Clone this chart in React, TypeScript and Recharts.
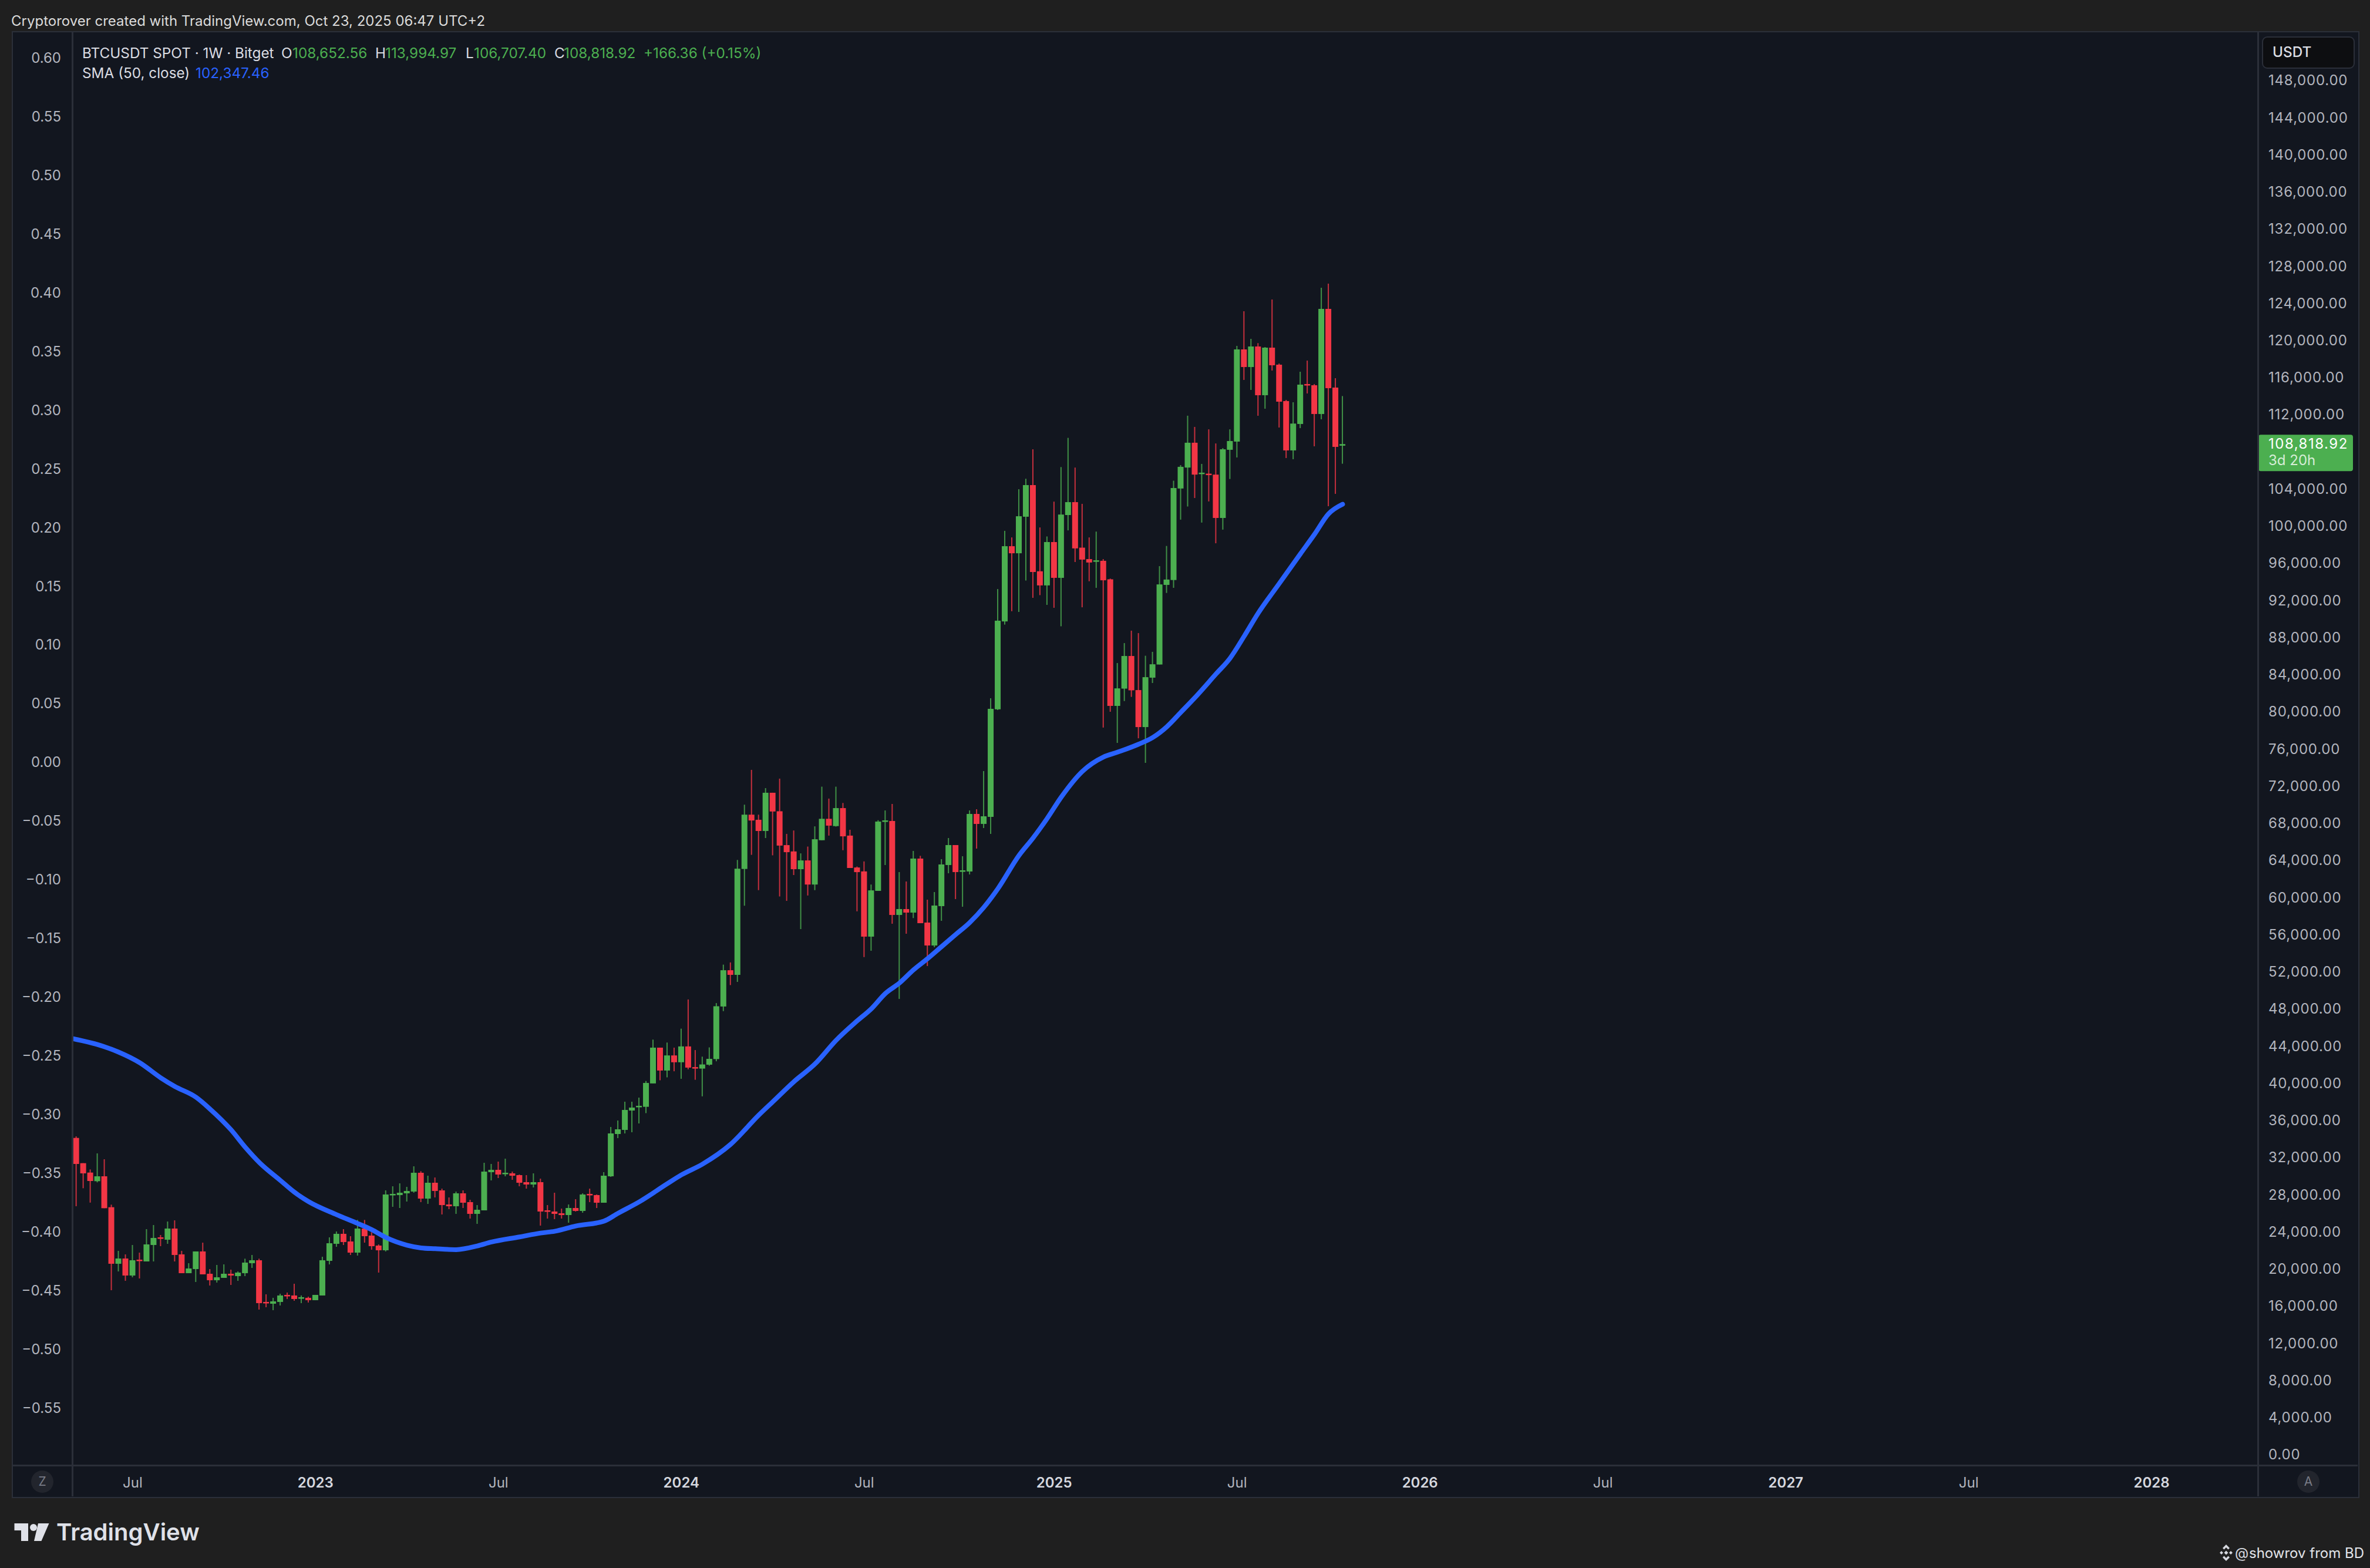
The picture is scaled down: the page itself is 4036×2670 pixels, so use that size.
import { Bar, ComposedChart, Line, ReferenceLine, XAxis, YAxis } from 'recharts'

// weekly candles, oldest first
const opens = [
  34094, 31375, 30363, 29435, 29962, 26632, 20540, 21109, 19275, 20982,
  20792, 22563, 23385, 23132, 24334, 21552, 19528, 19970, 21868, 19464,
  18769, 19022, 19464, 19211, 19528, 20603, 20919, 16429, 16239, 16429,
  17187, 17125, 16808, 16872, 16619, 17125, 20855, 22690, 23765, 22943,
  21741, 24334, 23575, 22500, 21994, 27939, 27939, 28128, 28318, 30342,
  27559, 29267, 28444, 26927, 26737, 28128, 27180, 25915, 26294, 30405,
  30658, 30215, 30278, 30089, 29330, 29077, 29330, 26294, 26168, 25978,
  25788, 26547, 26231, 28065, 27939, 27116, 29962, 34515, 34958, 37045,
  37425, 37446, 39964, 43817, 41353, 42979, 42244, 43950, 41720, 41563,
  41982, 42586, 48249, 52156, 51657, 63063, 68910, 68360, 67153, 71270,
  69277, 65632, 64951, 63037, 63981, 61385, 66157, 68464, 67678, 69618,
  66655, 63221, 62801, 55774, 60703, 68166, 68229, 58110, 58743, 58363,
  64181, 57288, 54822, 59059, 63486, 65636, 62832, 62790, 68988, 67914,
  68672, 80257, 89723, 97825, 97064, 100998, 104406, 95124, 93603, 98271,
  94416, 101181, 102571, 97668, 96435, 96199, 96252, 94259, 80625, 82486,
  85999, 82329, 78344, 83666, 85082, 93656, 94181, 104039, 106294, 108968,
  105612, 105638, 105534, 100866, 108208, 109090, 119019, 117122, 119335, 114086,
  119209, 117375, 113454, 108142, 110988, 115288, 115161, 112063, 123383, 114909,
  108652.56,
]
const highs = [
  34262, 31375, 30700, 32429, 31796, 26906, 21931, 21552, 22563, 21741,
  24270, 24713, 23638, 25093, 25219, 21931, 20603, 21868, 22816, 19970,
  20413, 20476, 19907, 19717, 21088, 21488, 21088, 17251, 16872, 17314,
  17440, 18389, 17125, 16998, 17187, 21298, 23385, 24018, 24270, 23512,
  25261, 25261, 23933, 22626, 28445, 28887, 29203, 28824, 31037, 30510,
  30025, 29836, 28634, 27686, 28318, 28444, 27433, 26863, 31417, 31290,
  31543, 31859, 30468, 30152, 30089, 30278, 29709, 26863, 28191, 26484,
  26927, 27496, 28128, 28634, 28002, 30405, 35274, 35970, 37994, 37994,
  38436, 40226, 44683, 43817, 44368, 43817, 45863, 49009, 43556, 42847,
  43844, 48616, 52759, 52995, 64033, 69985, 73735, 68910, 71768, 71270,
  72791, 66839, 67206, 64741, 65475, 67652, 71925, 70641, 71925, 70169,
  67285, 63325, 63876, 61385, 68313, 69367, 70063, 62727, 61715, 65003,
  64476, 59754, 60576, 64118, 66395, 65636, 64434, 69367, 69493, 73605,
  81447, 93210, 99477, 98769, 103960, 105088, 108260, 99844, 98874, 102623,
  106346, 109493, 106294, 102387, 98769, 99398, 96435, 94338, 85239, 87389,
  88727, 88464, 86026, 86446, 95675, 97851, 104878, 106556, 111879, 110673,
  106687, 110410, 108890, 108392, 110410, 119399, 123130, 120157, 119694, 119272,
  124395, 117501, 113580, 113328, 116616, 117818, 115288, 125659, 126102, 115920,
  113994.97,
]
const lows = [
  26737, 28676, 27128, 29309, 26526, 17693, 19717, 18705, 19085, 18958,
  20792, 20792, 22437, 22690, 20792, 19528, 19528, 18579, 19401, 18200,
  18516, 19022, 18263, 18705, 19211, 20097, 15607, 15860, 15544, 16050,
  16745, 16555, 16302, 16366, 16619, 17125, 20476, 22373, 22563, 21488,
  21425, 22816, 22057, 19591, 21868, 26674, 26547, 27243, 28192, 27180,
  26990, 27686, 25852, 26421, 25915, 26547, 25409, 24840, 26294, 29520,
  29773, 29962, 29583, 28887, 28634, 28760, 24650, 25409, 25346, 25409,
  24966, 26168, 26041, 27180, 26547, 27116, 29899, 34073, 34579, 34705,
  35654, 36765, 39964, 40304, 40619, 41274, 40461, 41483, 40357, 38574,
  41877, 42349, 47751, 50556, 50897, 59104, 64584, 60782, 66393, 64531,
  60100, 59628, 62408, 56587, 60205, 60782, 66157, 66655, 67625, 65082,
  63168, 58501, 53572, 54253, 60703, 63486, 57161, 49067, 56087, 57773,
  57225, 52608, 54632, 57478, 62600, 59818, 58995, 62474, 65256, 67471,
  66838, 80179, 89382, 90824, 90746, 94128, 92266, 92554, 91506, 91191,
  89199, 99529, 96121, 91243, 94049, 93341, 78291, 79995, 76639, 81149,
  81595, 77137, 74489, 83089, 85082, 92791, 93341, 100683, 102099, 103016,
  100368, 102649, 98140, 99608, 105062, 107383, 115731, 114656, 111873, 112632,
  116742, 110608, 107320, 107193, 110545, 114276, 108585, 111493, 102134, 103462,
  106707.4,
]
const closes = [
  31290, 30278, 29456, 29962, 26526, 20540, 21109, 19275, 20919, 20855,
  22626, 23322, 23259, 24334, 21488, 19528, 20034, 21868, 19401, 18769,
  19085, 19464, 19275, 19591, 20666, 20919, 16302, 16302, 16492, 17125,
  17061, 16745, 16934, 16619, 17187, 20919, 22752, 23765, 22880, 21741,
  24334, 23512, 22437, 21994, 28002, 28065, 28191, 28381, 30342, 27559,
  29267, 28381, 26863, 26737, 28128, 27116, 25915, 26358, 30468, 30658,
  30152, 30342, 30025, 29267, 29077, 29330, 26168, 26168, 25915, 25788,
  26547, 26231, 28002, 27939, 27116, 30025, 34579, 35022, 37108, 37361,
  37551, 40016, 43817, 41353, 42979, 42244, 43950, 41668, 41563, 42008,
  42612, 48275, 52156, 51657, 63090, 68910, 68281, 67153, 71270, 69251,
  65580, 64872, 63037, 63981, 61385, 66262, 68464, 67730, 69618, 66577,
  63168, 62722, 55774, 60756, 68166, 68292, 58110, 58743, 58363, 64181,
  57225, 54822, 59122, 63549, 65636, 62727, 62916, 68988, 67912, 68736,
  80309, 89801, 97825, 97064, 101050, 104406, 95046, 93603, 98271, 94416,
  101233, 102571, 97589, 96383, 96068, 96304, 94154, 80625, 82512, 85999,
  82303, 78344, 83719, 85108, 93708, 94233, 104091, 106373, 108968, 105534,
  105743, 105481, 100866, 108260, 109152, 119019, 117122, 119335, 114086, 119209,
  117312, 113391, 108142, 111030, 115225, 115161, 112063, 123383, 114845, 108521,
  108818.92,
]

// SMA(50) read at these candle positions, the first one sits on the pane edge
const smaAt = [
  -0.58, 0, 3, 6, 9, 12, 14, 17, 19, 22, 24, 26, 29, 31, 33, 37, 40, 42, 44, 47, 49, 51, 54, 57,
  59, 63, 66, 68, 71, 75, 77, 80, 84, 86, 89, 93, 97, 99, 102, 105, 108, 111, 113, 115, 117, 119,
  121, 123, 125, 127, 129, 131, 134, 136, 138, 140, 143, 146, 148, 151, 153, 155, 157, 159, 162, 164,
  166, 168, 171, 174, 176, 178, 180,
]
const smaValues = [
  44800, 44700, 44150, 43340, 42200, 40570, 39640, 38480, 37210, 34960, 33100, 31460, 29520, 28250,
  27240, 25830, 24880, 24210, 23370, 22540, 22250, 22160, 22060, 22460, 22880, 23430, 23850, 24040,
  24610, 25130, 25980, 27200, 29160, 30110, 31270, 33400, 36550, 37990, 40150, 42060, 44600, 46700,
  48000, 49650, 50770, 52190, 53400, 54700, 56000, 57300, 58930, 60940, 64520, 66400, 68500, 70800, 73570,
  75120, 75640, 76500, 77220, 78370, 79930, 81510, 84060, 85760, 88120, 90610, 93810, 97000, 99100,
  101310, 102347.46,
]

const timeTicks = [8, 34, 60, 86, 112, 139, 165, 191, 217, 243, 269, 295]
const timeLabels = ['Jul', '2023', 'Jul', '2024', 'Jul', '2025', 'Jul', '2026', 'Jul', '2027', 'Jul', '2028']
const percentTicks = [
  0.6, 0.55, 0.5, 0.45, 0.4, 0.35, 0.3, 0.25, 0.2, 0.15, 0.1, 0.05, 0, -0.05, -0.1, -0.15, -0.2,
  -0.25, -0.3, -0.35, -0.4, -0.45, -0.5, -0.55,
]
// 108,000 sits behind the last price tag, so it is left out
const priceTicks = [
  148000, 144000, 140000, 136000, 132000, 128000, 124000, 120000, 116000, 112000, 104000, 100000,
  96000, 92000, 88000, 84000, 80000, 76000, 72000, 68000, 64000, 60000, 56000, 52000, 48000, 44000, 40000,
  36000, 32000, 28000, 24000, 20000, 16000, 12000, 8000, 4000, 0,
]

const legendItems: [string, number, string][] = [
  ['BTCUSDT SPOT · 1W · Bitget', 140, '#dbdde3'],
  ['O', 479, '#dbdde3'],
  ['108,652.56', 498, '#4caf50'],
  ['H', 639, '#dbdde3'],
  ['113,994.97', 656, '#4caf50'],
  ['L', 793, '#dbdde3'],
  ['106,707.40', 807, '#4caf50'],
  ['C', 944, '#dbdde3'],
  ['108,818.92', 960, '#4caf50'],
  ['+166.36 (+0.15%)', 1096, '#4caf50'],
]

const GREEN = '#4caf50'
const RED = '#f23645'
const BLUE = '#2962ff'
const PANE = '#12161f'
const PAGE = '#1f1f1f'
const EDGE = '#2b2f39'
const FONT = 'Inter, "Noto Sans", sans-serif'
const BODY_WIDTH = 10

const rows = [
  { idx: smaAt[0], sma: smaValues[0] },
  ...opens.map((open, idx) => {
    const at = smaAt.indexOf(idx)
    return {
      idx,
      open,
      high: highs[idx],
      low: lows[idx],
      close: closes[idx],
      sma: at >= 0 ? smaValues[at] : undefined,
    }
  }),
]

const Candle = (props: any) => {
  const { x, y, width, height, payload } = props
  if (payload.open === undefined) return null
  const { open, high, low, close } = payload
  const color = close >= open ? GREEN : RED
  const center = x + width / 2
  const perUnit = height / (high - low)
  const bodyTop = y + (high - Math.max(open, close)) * perUnit
  const bodyHeight = Math.max(Math.abs(open - close) * perUnit, 2.5)
  return (
    <g>
      <rect x={center - 1} y={y} width={2} height={height} fill={color} fillOpacity={0.8} />
      <rect x={center - BODY_WIDTH / 2} y={bodyTop} width={BODY_WIDTH} height={bodyHeight} fill={color} />
    </g>
  )
}

const TimeTick = ({ x, y, payload }: any) => {
  const label = timeLabels[timeTicks.indexOf(payload.value)]
  const isYear = label !== 'Jul'
  return (
    <text
      x={x}
      y={y + 22}
      textAnchor="middle"
      dominantBaseline="central"
      fontFamily={FONT}
      fontSize={24}
      fontWeight={isYear ? 600 : 400}
      fill={isYear ? '#d6d8df' : '#b2b5be'}
    >
      {label}
    </text>
  )
}

const PriceTag = ({ viewBox }: any) => {
  const left = viewBox.x + viewBox.width + 1
  return (
    <g fontFamily={FONT} fontSize={24}>
      <rect x={left} y={viewBox.y - 16} width={161} height={62} rx={4} fill={GREEN} />
      <text x={left + 17} y={viewBox.y + 8} fill="#ffffff" letterSpacing={1.5}>108,818.92</text>
      <text x={left + 17} y={viewBox.y + 36} fill="#d6edd7">3d 20h</text>
    </g>
  )
}

const Txt = ({ left, top, color = '#dbdde3', size = 24.3, weight = 400, children }: any) => (
  <div
    style={{
      position: 'absolute',
      left,
      top,
      color,
      fontSize: size,
      fontWeight: weight,
      fontFamily: FONT,
      lineHeight: '30px',
      whiteSpace: 'nowrap',
    }}
  >
    {children}
  </div>
)

const Badge = ({ cx, label }: { cx: number; label: string }) => (
  <div
    style={{
      position: 'absolute',
      left: cx - 19,
      top: 2504,
      width: 38,
      height: 38,
      borderRadius: 19,
      background: '#22252d',
      color: '#787b86',
      fontFamily: FONT,
      fontSize: 21,
      lineHeight: '38px',
      textAlign: 'center',
    }}
  >
    {label}
  </div>
)

const Rule = ({ left, top, width, height }: any) => (
  <div style={{ position: 'absolute', left, top, width, height, background: EDGE }} />
)

const Frame = () => (
  <div
    style={{
      position: 'absolute',
      left: 20,
      top: 53,
      width: 3994,
      height: 2494,
      background: PANE,
      border: `2px solid ${EDGE}`,
    }}
  />
)

const Overlay = () => (
  <>
    <Rule left={122} top={54} width={3} height={2494} />
    <Rule left={3844} top={54} width={3} height={2494} />
    <Rule left={21} top={2494} width={3994} height={3} />
    <Txt left={19} top={21} size={24} color="#dbdbdb">
      Cryptorover created with TradingView.com, Oct 23, 2025 06:47 UTC+2
    </Txt>
    {legendItems.map(([text, left, color]) => (
      <Txt key={left} left={left} top={75} color={color}>
        {text}
      </Txt>
    ))}
    <Txt left={140} top={109}>SMA (50, close)</Txt>
    <Txt left={333} top={109} color={BLUE}>102,347.46</Txt>
    <div
      style={{
        position: 'absolute',
        left: 3852,
        top: 62,
        width: 154,
        height: 51,
        background: '#0d0e11',
        border: `2px solid ${EDGE}`,
        borderRadius: 9,
      }}
    />
    <Txt left={3870} top={73} weight={500}>USDT</Txt>
    <Badge cx={72} label="Z" />
    <Badge cx={3931} label="A" />
    <svg
      style={{ position: 'absolute', left: 0, top: 2580 }}
      width={100}
      height={60}
      viewBox="0 2580 100 60"
    >
      <path d="M24.5 2594H48V2624H36V2606H24.5Z M65 2594H83.5L70.5 2624H58Z" fill="#dfe1e8" />
      <circle cx={57} cy={2601} r={6} fill="#dfe1e8" />
    </svg>
    <Txt left={96} top={2594} size={40} weight={600} color="#dfe1e8">TradingView</Txt>
    <svg
      style={{ position: 'absolute', left: 3780, top: 2630 }}
      width={22}
      height={28}
      viewBox="0 0 22 28"
    >
      <path
        d="M11 0L17 6L14.5 8.5L11 5L7.500 8.500L5 6Z M11 28L5 22L7.500 19.500L11 23L14.5 19.500L17 22Z M11 10.500L14.500 14L11 17.500L7.500 14Z M3 11L6 14L3 17L0 14Z M19 11L22 14L19 17L16 14Z"
        fill="#d6d8df"
      />
    </svg>
    <Txt left={3806} top={2630} size={24} color="#d6d8df">@</Txt>
    <Txt left={3830} top={2630} size={24} color="#e3e5ea">showrov from BD</Txt>
  </>
)

export default function App() {
  return (
    <div
      style={{
        position: 'absolute',
        left: 0,
        top: 0,
        width: 4036,
        height: 2670,
        background: PAGE,
        overflow: 'hidden',
      }}
    >
      <Frame />
      <div style={{ position: 'absolute', left: 0, top: 0 }}>
        <ComposedChart
          width={4036}
          height={2670}
          data={rows}
          margin={{ top: 54, right: 21, bottom: 121, left: 20 }}
          style={{ background: 'transparent' }}
        >
          <XAxis
            dataKey="idx"
            type="number"
            domain={[-0.584, 310.1]}
            allowDataOverflow
            ticks={timeTicks}
            interval={0}
            height={55}
            axisLine={false}
            tickLine={false}
            tick={<TimeTick />}
          />
          <YAxis
            yAxisId="percent"
            orientation="left"
            type="number"
            width={103}
            domain={[-0.5985, 0.6223]}
            allowDataOverflow
            ticks={percentTicks}
            interval={0}
            axisLine={false}
            tickLine={false}
            tickSize={0}
            tickMargin={19}
            tick={{ fill: '#b2b5be', fontSize: 24, fontFamily: FONT }}
            tickFormatter={(v: number) => v.toFixed(2).replace('-', '−')}
          />
          <YAxis
            yAxisId="price"
            orientation="right"
            type="number"
            width={170}
            domain={[-1094, 153236]}
            allowDataOverflow
            ticks={priceTicks}
            interval={0}
            axisLine={false}
            tickLine={false}
            tickSize={0}
            tickMargin={18}
            tick={{ fill: '#b2b5be', fontSize: 24, fontFamily: FONT, letterSpacing: 0.8 }}
            tickFormatter={(v: number) =>
              v.toLocaleString('en-US', { minimumFractionDigits: 2, maximumFractionDigits: 2 })
            }
          />
          <Line
            yAxisId="price"
            dataKey="sma"
            type="monotone"
            connectNulls
            dot={false}
            activeDot={false}
            stroke={BLUE}
            strokeWidth={8}
            strokeLinecap="round"
            isAnimationActive={false}
          />
          <Bar
            yAxisId="price"
            dataKey={(d: any) => (d.open === undefined ? null : [d.low, d.high])}
            barSize={10}
            shape={<Candle />}
            isAnimationActive={false}
          />
          <ReferenceLine
            yAxisId="price"
            y={closes[closes.length - 1]}
            stroke="none"
            label={(p: any) => <PriceTag {...p} />}
          />
        </ComposedChart>
      </div>
      <Overlay />
    </div>
  )
}
